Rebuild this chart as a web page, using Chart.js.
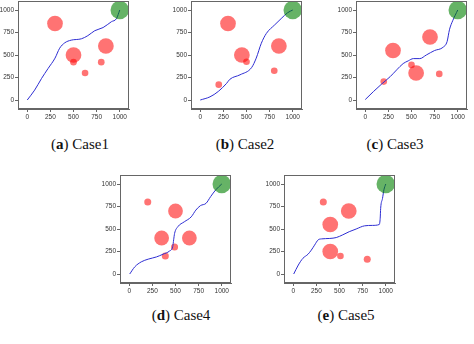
<!DOCTYPE html>
<html>
<head>
<meta charset="utf-8">
<script src="https://cdn.jsdelivr.net/npm/chart.js@4.4.1/dist/chart.umd.min.js"></script>
<style>
  body { margin: 0; background: #fff; width: 474px; height: 344px; position: relative; overflow: hidden; }
  canvas { position: absolute; }
  .cap { position: absolute; font-family: "Liberation Serif", "DejaVu Serif", serif; font-size: 15px; color: #111;
         transform: translateX(-50%); white-space: nowrap; }
</style>
</head>
<body>
<canvas id="c1"></canvas>
<canvas id="c2"></canvas>
<canvas id="c3"></canvas>
<canvas id="c4"></canvas>
<canvas id="c5"></canvas>
<div class="cap" style="left:80px;top:136px">(<b>a</b>) Case1</div>
<div class="cap" style="left:245px;top:136px">(<b>b</b>) Case2</div>
<div class="cap" style="left:395px;top:136px">(<b>c</b>) Case3</div>
<div class="cap" style="left:181px;top:307px">(<b>d</b>) Case4</div>
<div class="cap" style="left:346px;top:307px">(<b>e</b>) Case5</div>
<script>
const tickVals = [0, 250, 500, 750, 1000];
const goalX = [1000];
const goalY = [1000];
const goalR = [100];

// Case1
const pathX1 = [0, 80, 155, 225, 300, 350, 405, 475, 585, 655, 730, 820, 910, 965, 1000];
const pathY1 = [0, 110, 240, 350, 465, 575, 635, 665, 680, 715, 770, 805, 870, 905, 1000];
const obsX1 = [300, 500, 500, 850, 800, 625];
const obsY1 = [850, 500, 420, 600, 420, 300];
const obsR1 = [85, 85, 36, 85, 36, 36];

// Case2
const pathX2 = [0, 105, 195, 285, 320, 430, 555, 605, 660, 715, 805, 875, 945, 1000];
const pathY2 = [0, 35, 95, 185, 230, 280, 360, 465, 630, 740, 835, 905, 970, 1000];
const obsX2 = [300, 450, 500, 850, 800, 200];
const obsY2 = [850, 500, 425, 600, 325, 170];
const obsR2 = [85, 85, 36, 85, 36, 36];

// Case3
const pathX3 = [0, 90, 180, 270, 340, 410, 465, 520, 590, 660, 750, 840, 885, 910, 945, 1000];
const pathY3 = [5, 95, 180, 260, 335, 405, 435, 460, 460, 500, 550, 585, 650, 780, 880, 1000];
const obsX3 = [300, 700, 550, 500, 200, 800];
const obsY3 = [550, 700, 300, 390, 205, 290];
const obsR3 = [85, 85, 85, 36, 36, 36];

// Case4
const pathX4 = [5, 60, 130, 205, 295, 365, 435, 470, 480, 490, 525, 595, 670, 720, 770, 830, 880, 935, 1000];
const pathY4 = [0, 80, 135, 165, 190, 220, 255, 305, 380, 450, 525, 580, 635, 710, 760, 785, 860, 935, 1000];
const obsX4 = [200, 500, 350, 650, 490, 390];
const obsY4 = [800, 700, 400, 400, 300, 200];
const obsR4 = [38, 80, 80, 80, 38, 38];

// Case5
const pathX5 = [5, 55, 105, 160, 195, 230, 270, 305, 395, 465, 535, 605, 680, 770, 855, 930, 940, 945, 965, 980, 1000];
const pathY5 = [0, 100, 175, 220, 265, 320, 380, 390, 395, 405, 435, 470, 500, 535, 540, 550, 620, 730, 840, 935, 1000];
const obsX5 = [325, 600, 400, 400, 510, 800];
const obsY5 = [800, 700, 550, 250, 200, 165];
const obsR5 = [38, 85, 85, 85, 36, 38];

const cases = [
  {id: 'c1', left: 18, top: 1, px: pathX1, py: pathY1, ox: obsX1, oy: obsY1, or: obsR1},
  {id: 'c2', left: 191, top: 1, px: pathX2, py: pathY2, ox: obsX2, oy: obsY2, or: obsR2},
  {id: 'c3', left: 356, top: 1, px: pathX3, py: pathY3, ox: obsX3, oy: obsY3, or: obsR3},
  {id: 'c4', left: 120, top: 175, px: pathX4, py: pathY4, ox: obsX4, oy: obsY4, or: obsR4},
  {id: 'c5', left: 284, top: 175, px: pathX5, py: pathY5, ox: obsX5, oy: obsY5, or: obsR5}
];

const plotW = 111, plotH = 108, yAxisW = 22, xAxisH = 14, padTop = 1, padRight = 10;

const zip = (xs, ys) => xs.map((x, i) => ({x: x, y: ys[i]}));

// turn a radius in data units into pixels through the x scale
const radiusFrom = (rs) => (ctx) => {
  const s = ctx.chart.scales.x;
  if (!s) return 3;
  return Math.abs(s.getPixelForValue(rs[ctx.dataIndex]) - s.getPixelForValue(0));
};

const boxPlugin = {
  id: 'box',
  afterDraw(chart) {
    const a = chart.chartArea, c = chart.ctx;
    c.save();
    c.strokeStyle = '#666';
    c.lineWidth = 1;
    c.strokeRect(Math.round(a.left) + 0.5, Math.round(a.top) + 0.5,
                 Math.round(a.right - a.left) - 1, Math.round(a.bottom - a.top) - 1);
    c.restore();
  }
};

function axis(pos) {
  return {
    type: 'linear',
    position: pos,
    min: -100,
    max: 1100,
    afterBuildTicks: s => { s.ticks = tickVals.map(v => ({value: v})); },
    afterFit: s => {
      if (pos === 'left') { s.width = yAxisW; s.paddingTop = 0; s.paddingBottom = 0; }
      else { s.height = xAxisH; s.paddingLeft = 0; s.paddingRight = 0; }
    },
    ticks: {
      font: {family: 'Liberation Sans', size: 6.5},
      color: '#333',
      padding: 1,
      maxRotation: 0,
      autoSkip: false,
      callback: v => String(v)
    },
    grid: {drawOnChartArea: false, drawTicks: true, tickLength: 3, color: '#666'},
    border: {display: true, color: '#666'}
  };
}

cases.forEach(cs => {
  const cv = document.getElementById(cs.id);
  cv.width = yAxisW + plotW + padRight;
  cv.height = padTop + plotH + xAxisH;
  cv.style.left = (cs.left - yAxisW) + 'px';
  cv.style.top = (cs.top - padTop) + 'px';
  new Chart(cv, {
    type: 'scatter',
    data: {
      datasets: [
        {
          type: 'line',
          data: zip(cs.px, cs.py),
          borderColor: '#2d2dd2',
          borderWidth: 1,
          pointRadius: 0,
          tension: 0.4,
          cubicInterpolationMode: 'monotone',
          fill: false,
          order: 1
        },
        {
          data: zip(cs.ox, cs.oy),
          backgroundColor: 'rgba(255,0,0,0.55)',
          borderWidth: 0,
          pointRadius: radiusFrom(cs.or),
          pointHoverRadius: radiusFrom(cs.or),
          order: 2
        },
        {
          data: zip(goalX, goalY),
          backgroundColor: 'rgba(0,128,0,0.6)',
          borderWidth: 0,
          pointRadius: radiusFrom(goalR),
          pointHoverRadius: radiusFrom(goalR),
          order: 0
        }
      ]
    },
    options: {
      responsive: false,
      animation: false,
      events: [],
      layout: {padding: {top: padTop, right: padRight, left: 0, bottom: 0}},
      plugins: {legend: {display: false}, tooltip: {enabled: false}},
      scales: {x: axis('bottom'), y: axis('left')}
    },
    plugins: [boxPlugin]
  });
});
</script>
</body>
</html>
